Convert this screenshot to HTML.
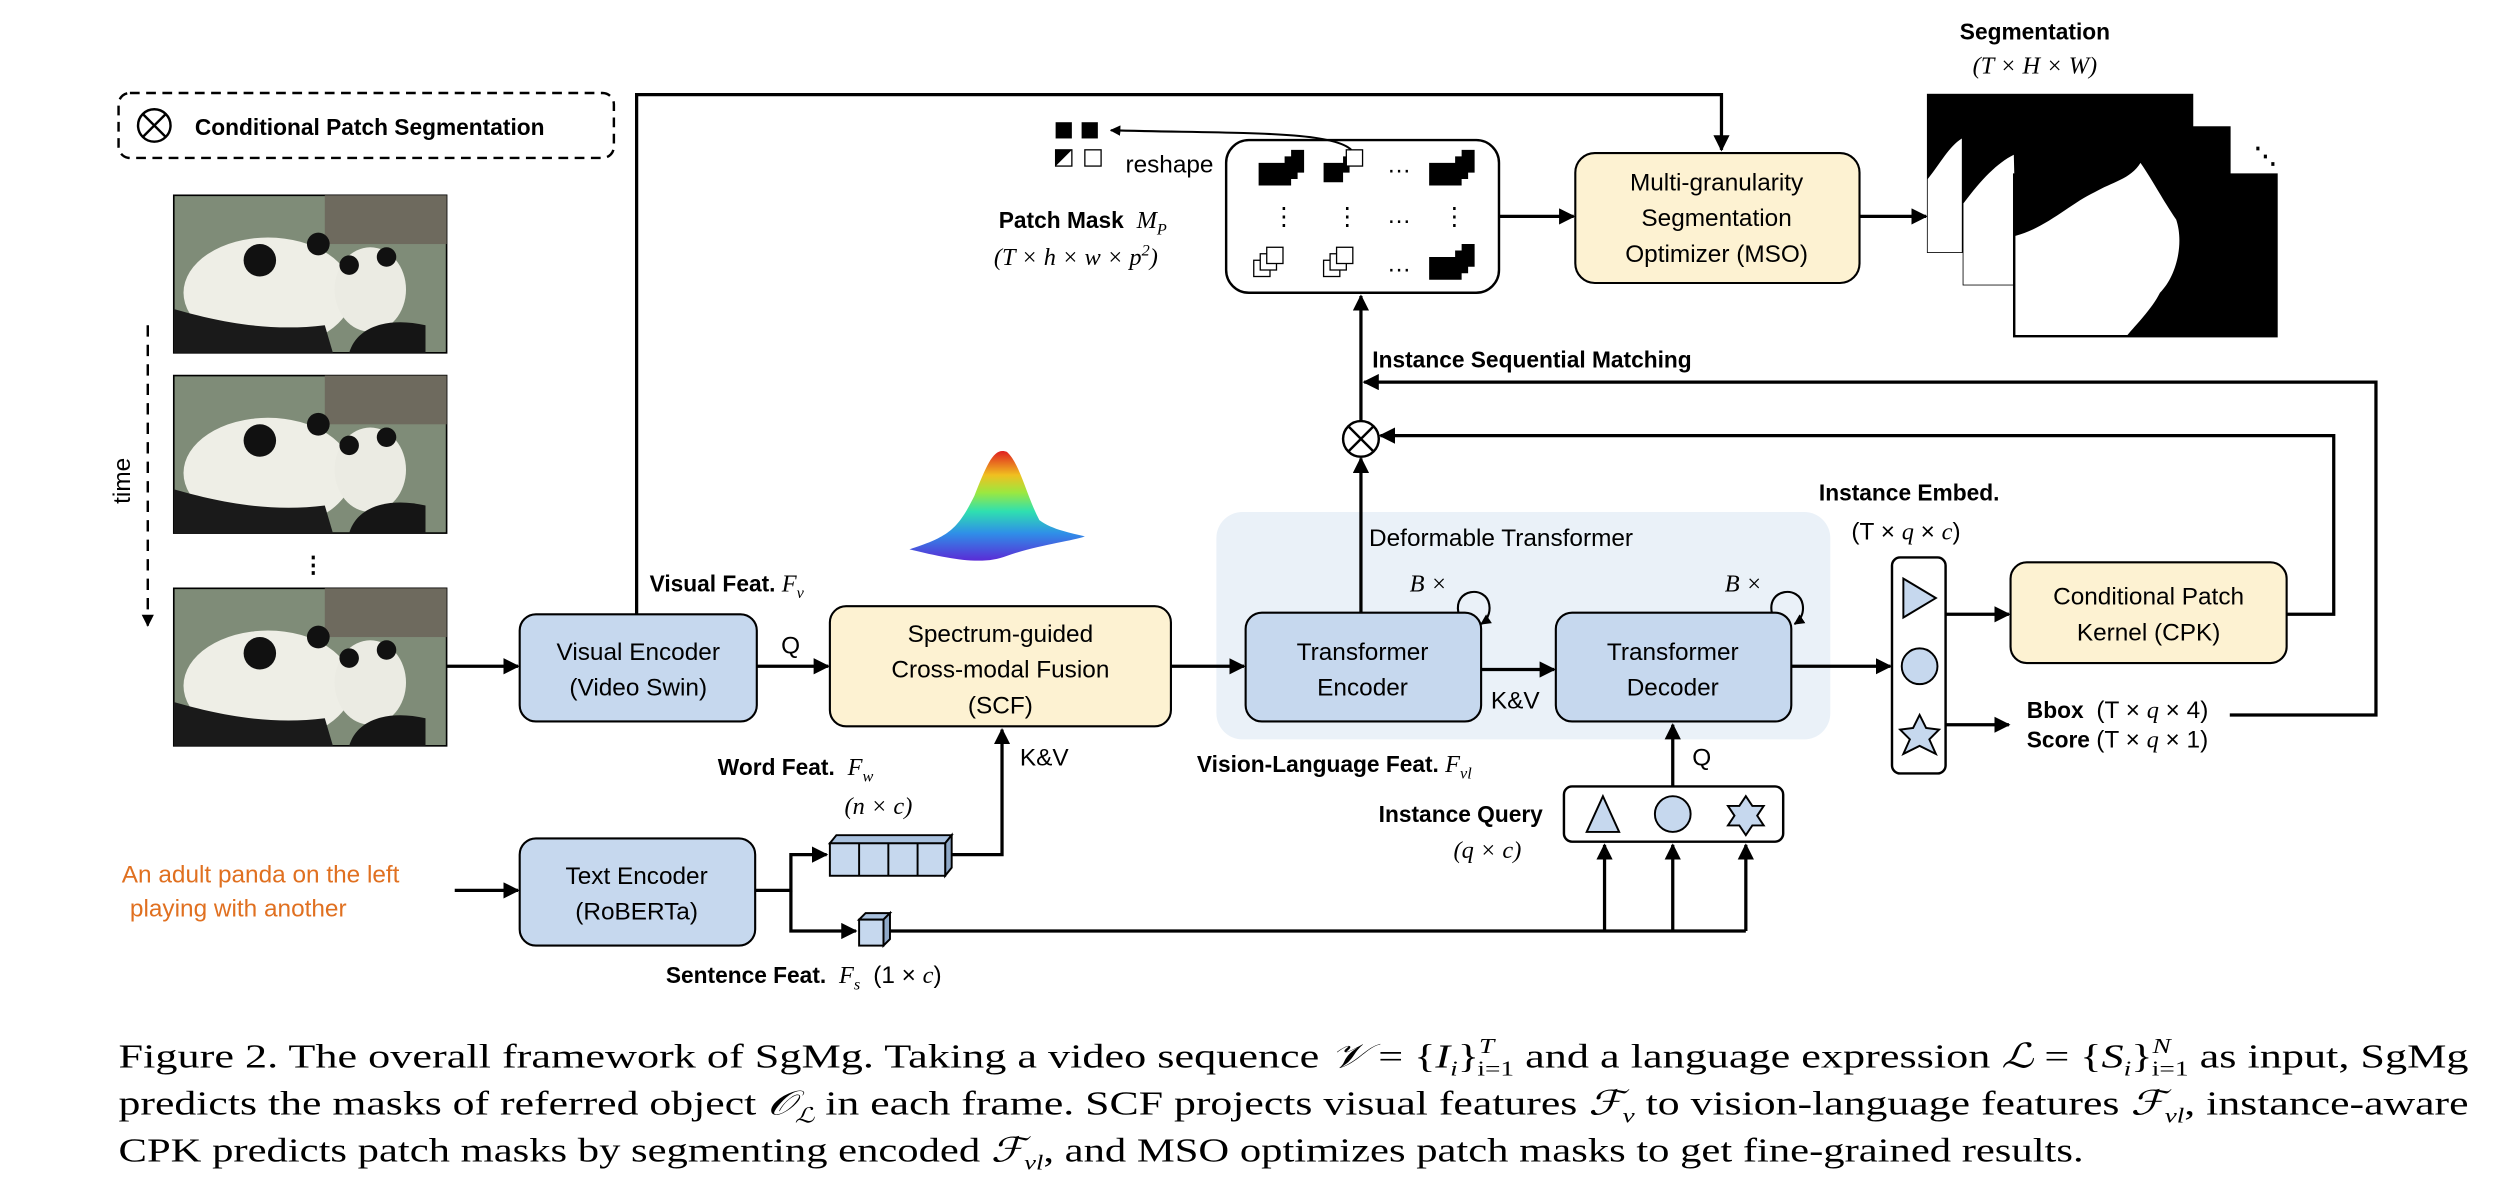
<!DOCTYPE html>
<html><head><meta charset="utf-8"><style>
html,body{margin:0;padding:0;background:#fff;}
svg{display:block;}
.b{font-family:"Liberation Sans",sans-serif;font-weight:bold;font-size:14px;fill:#000;}
.t{font-family:"Liberation Sans",sans-serif;font-size:15px;fill:#000;}
.m{font-family:"Liberation Serif",serif;font-style:italic;font-size:15px;fill:#000;}
.cap{font-family:"Liberation Serif",serif;font-size:21px;fill:#000;}
</style></head><body>
<svg width="2514" height="1188" viewBox="0 0 1548 731" xmlns="http://www.w3.org/2000/svg">
<defs>
<marker id="ar" viewBox="0 0 10 10" refX="9" refY="5" markerWidth="5" markerHeight="5" orient="auto-start-reverse"><path d="M0,0 L10,5 L0,10 z" fill="#000"/></marker>
<linearGradient id="rb" x1="0" y1="1" x2="0" y2="0">
<stop offset="0" stop-color="#5a2bd6"/><stop offset="0.25" stop-color="#2f8fe8"/><stop offset="0.45" stop-color="#2fe0b0"/><stop offset="0.62" stop-color="#9be840"/><stop offset="0.78" stop-color="#f0c020"/><stop offset="1" stop-color="#e02020"/></linearGradient>
</defs>
<rect width="1548" height="731" fill="#fff"/>

<!-- legend -->
<rect x="73" y="57" width="305" height="40" rx="7" fill="none" stroke="#000" stroke-width="1.5" stroke-dasharray="6,4"/>
<circle cx="95" cy="77" r="10" fill="none" stroke="#000" stroke-width="1.5"/>
<path d="M88,70 L102,84 M102,70 L88,84" stroke="#000" stroke-width="1.5"/>
<text x="120" y="83" class="b" font-size="15">Conditional Patch Segmentation</text>

<!-- panda frames -->
<g id="pf">
<rect x="107" y="120" width="168" height="97" fill="#7f8c78" stroke="#000" stroke-width="1"/>
<rect x="200" y="120" width="75" height="30" fill="#6e6a5e"/>
<ellipse cx="165" cy="180" rx="52" ry="34" fill="#eeeee6"/>
<path d="M107,217 L107,190 C125,195 160,205 200,200 L205,217 z" fill="#1a1a1a"/>
<circle cx="160" cy="160" r="10" fill="#111"/>
<ellipse cx="228" cy="178" rx="22" ry="26" fill="#ebebe3"/>
<path d="M215,217 C220,200 240,195 262,200 L262,217 z" fill="#151515"/>
<circle cx="215" cy="163" r="6" fill="#111"/><circle cx="238" cy="158" r="6" fill="#111"/>
<circle cx="196" cy="150" r="7" fill="#111"/>
</g>
<use href="#pf" y="111"/>
<use href="#pf" y="242"/>
<text x="186" y="352" class="b" font-size="18">⋮</text>
<line x1="91" y1="200" x2="91" y2="385" stroke="#000" stroke-width="1.5" stroke-dasharray="7,5" marker-end="url(#ar)"/>
<text class="t" font-size="16" transform="translate(80,310) rotate(-90)">time</text>

<!-- top loop -->
<path d="M392,378 L392,58 L1060,58 L1060,92" fill="none" stroke="#000" stroke-width="2" marker-end="url(#ar)"/>

<!-- deformable panel -->
<rect x="749" y="315" width="378" height="140" rx="16" fill="#eaf1f8"/>

<!-- visual encoder -->
<line x1="275" y1="410" x2="319" y2="410" stroke="#000" stroke-width="2" marker-end="url(#ar)"/>
<rect x="320" y="378" width="146" height="66" rx="10" fill="#c6d8ee" stroke="#000" stroke-width="1.3"/>
<text x="393" y="406" class="t" text-anchor="middle">Visual Encoder</text>
<text x="393" y="428" class="t" text-anchor="middle">(Video Swin)</text>
<text x="400" y="364" class="b">Visual Feat. <tspan class="m" font-weight="normal">F<tspan font-size="10" dy="4">v</tspan></tspan></text>
<line x1="466" y1="410" x2="510" y2="410" stroke="#000" stroke-width="2" marker-end="url(#ar)"/>
<text x="481" y="402" class="t" font-size="14">Q</text>

<!-- gaussian -->
<path d="M560,338 C585,330 590,325 600,305 C608,285 612,275 620,278 C628,285 632,305 640,320 C648,326 660,328 668,330 C660,333 640,335 620,342 C605,348 585,344 560,338 Z" fill="url(#rb)"/>

<!-- SCF -->
<rect x="511" y="373" width="210" height="74" rx="10" fill="#fdf2d2" stroke="#000" stroke-width="1.3"/>
<text x="616" y="395" class="t" text-anchor="middle">Spectrum-guided</text>
<text x="616" y="417" class="t" text-anchor="middle">Cross-modal Fusion</text>
<text x="616" y="439" class="t" text-anchor="middle">(SCF)</text>
<line x1="721" y1="410" x2="766" y2="410" stroke="#000" stroke-width="2" marker-end="url(#ar)"/>

<text x="843" y="336" class="t" font-size="14">Deformable Transformer</text>
<rect x="767" y="377" width="145" height="67" rx="10" fill="#c6d8ee" stroke="#000" stroke-width="1.3"/>
<text x="839" y="406" class="t" text-anchor="middle">Transformer</text>
<text x="839" y="428" class="t" text-anchor="middle">Encoder</text>
<rect x="958" y="377" width="145" height="67" rx="10" fill="#c6d8ee" stroke="#000" stroke-width="1.3"/>
<text x="1030" y="406" class="t" text-anchor="middle">Transformer</text>
<text x="1030" y="428" class="t" text-anchor="middle">Decoder</text>
<line x1="912" y1="412" x2="957" y2="412" stroke="#000" stroke-width="2" marker-end="url(#ar)"/>
<text x="918" y="436" class="t" font-size="14">K&amp;V</text>
<text x="868" y="364" class="m">B ×</text>
<text x="1062" y="364" class="m">B ×</text>
<path d="M898,377 C895,362 915,360 917,372 C918,378 915,382 912,384" fill="none" stroke="#000" stroke-width="1.3" marker-end="url(#ar)"/>
<path d="M1091,377 C1088,362 1108,360 1110,372 C1111,378 1108,382 1105,384" fill="none" stroke="#000" stroke-width="1.3" marker-end="url(#ar)"/>
<text x="737" y="475" class="b">Vision-Language Feat. <tspan class="m" font-weight="normal">F<tspan font-size="10" dy="4">vl</tspan></tspan></text>

<!-- encoder up to otimes -->
<line x1="838" y1="377" x2="838" y2="282" stroke="#000" stroke-width="2" marker-end="url(#ar)"/>
<circle cx="838" cy="270" r="11" fill="#fff" stroke="#000" stroke-width="1.5"/>
<path d="M830,262 L846,278 M846,262 L830,278" stroke="#000" stroke-width="1.5"/>
<line x1="838" y1="259" x2="838" y2="182" stroke="#000" stroke-width="2" marker-end="url(#ar)"/>
<text x="845" y="226" class="b">Instance Sequential Matching</text>
<path d="M1373,440 L1463,440 L1463,235 L840,235" fill="none" stroke="#000" stroke-width="2" marker-end="url(#ar)"/>
<path d="M1408,378 L1437,378 L1437,268 L850,268" fill="none" stroke="#000" stroke-width="2" marker-end="url(#ar)"/>

<!-- patch mask -->
<rect x="755" y="86" width="168" height="94" rx="14" fill="#fff" stroke="#000" stroke-width="1.5"/>
<g fill="#000">
<path d="M775,100 h16 v-4 h4 v-4 h8 v14 h-4 v4 h-4 v4 h-20 z"/>
<path d="M880,100 h16 v-4 h4 v-4 h8 v14 h-4 v4 h-4 v4 h-20 z"/>
<path d="M880,158 h16 v-4 h4 v-4 h8 v14 h-4 v4 h-4 v4 h-20 z"/>
<path d="M815,100 h12 v-4 h4 v10 h-4 v6 h-12 z"/>
</g>
<g fill="#fff" stroke="#000" stroke-width="0.8">
<rect x="829" y="92" width="10" height="10"/>
<rect x="772" y="160" width="10" height="10"/><rect x="776" y="156" width="10" height="10"/><rect x="780" y="152" width="10" height="10"/>
<rect x="815" y="160" width="10" height="10"/><rect x="819" y="156" width="10" height="10"/><rect x="823" y="152" width="10" height="10"/>
</g>
<g class="t" font-size="13">
<text x="854" y="106">…</text><text x="854" y="137">…</text><text x="854" y="167">…</text>
<text x="783" y="138">⋮</text><text x="822" y="138">⋮</text><text x="888" y="138">⋮</text>
</g>
<path d="M832,92 C820,80 760,82 684,80" fill="none" stroke="#000" stroke-width="1.3" marker-end="url(#ar)"/>
<rect x="650" y="75" width="10" height="10" fill="#000"/>
<rect x="666" y="75" width="10" height="10" fill="#000"/>
<rect x="650" y="92" width="10" height="10" fill="#fff" stroke="#000" stroke-width="0.8"/>
<path d="M650,102 L660,92 L650,92 z" fill="#000"/>
<rect x="668" y="92" width="10" height="10" fill="#fff" stroke="#000" stroke-width="0.8"/>
<text x="693" y="106" class="t" font-size="14">reshape</text>
<text x="615" y="140" class="b">Patch Mask <tspan class="m" font-weight="normal" dx="4">M<tspan font-size="10" dy="4">P</tspan></tspan></text>
<text x="612" y="163" class="m">(T × h × w × p<tspan font-size="10" dy="-6">2</tspan><tspan dy="6">)</tspan></text>
<line x1="923" y1="133" x2="969" y2="133" stroke="#000" stroke-width="2" marker-end="url(#ar)"/>

<!-- MSO -->
<rect x="970" y="94" width="175" height="80" rx="12" fill="#fdf2d2" stroke="#000" stroke-width="1.3"/>
<text x="1057" y="117" class="t" text-anchor="middle">Multi-granularity</text>
<text x="1057" y="139" class="t" text-anchor="middle">Segmentation</text>
<text x="1057" y="161" class="t" text-anchor="middle">Optimizer (MSO)</text>
<line x1="1145" y1="133" x2="1186" y2="133" stroke="#000" stroke-width="2" marker-end="url(#ar)"/>

<!-- segmentation output -->
<text x="1253" y="24" class="b" text-anchor="middle">Segmentation</text>
<text x="1253" y="45" class="m" text-anchor="middle">(T × H × W)</text>
<rect x="1187" y="58" width="163" height="97" fill="#000" stroke="#000"/>
<path d="M1187,155 L1187,110 C1195,100 1200,90 1208,85 L1208,155 z" fill="#fff"/>
<rect x="1209" y="78" width="164" height="97" fill="#000" stroke="#000"/>
<path d="M1209,175 L1209,125 C1220,110 1230,100 1240,95 L1242,175 z" fill="#fff"/>
<rect x="1240" y="107" width="162" height="100" fill="#000" stroke="#000"/>
<path d="M1241,206 L1241,145 C1260,140 1275,125 1290,118 C1300,112 1312,110 1318,100 C1325,110 1330,120 1340,135 C1345,150 1340,170 1330,180 C1325,190 1315,200 1310,206 z" fill="#fff"/>
<text x="1388" y="100" class="b" font-size="14">⋱</text>

<!-- instance embed column -->
<text x="1120" y="308" class="b">Instance Embed.</text>
<text x="1140" y="332" class="t" font-size="14">(T × <tspan class="m">q</tspan> × <tspan class="m">c</tspan>)</text>
<line x1="1103" y1="410" x2="1164" y2="410" stroke="#000" stroke-width="2" marker-end="url(#ar)"/>
<rect x="1165" y="343" width="33" height="133" rx="5" fill="#fff" stroke="#000" stroke-width="1.5"/>
<path d="M1172,356 L1192,368 L1172,380 z" fill="#c6d8ee" stroke="#000" stroke-width="1.2"/>
<circle cx="1182" cy="410" r="11" fill="#c6d8ee" stroke="#000" stroke-width="1.2"/>
<path d="M1182,440 L1186,448 L1194,449 L1188,455 L1192,464 L1182,459 L1172,464 L1176,455 L1170,449 L1178,448 z" fill="#c6d8ee" stroke="#000" stroke-width="1.2"/>
<line x1="1198" y1="378" x2="1237" y2="378" stroke="#000" stroke-width="2" marker-end="url(#ar)"/>
<line x1="1198" y1="446" x2="1237" y2="446" stroke="#000" stroke-width="2" marker-end="url(#ar)"/>
<rect x="1238" y="346" width="170" height="62" rx="10" fill="#fdf2d2" stroke="#000" stroke-width="1.3"/>
<text x="1323" y="372" class="t" text-anchor="middle">Conditional Patch</text>
<text x="1323" y="394" class="t" text-anchor="middle">Kernel (CPK)</text>
<text x="1248" y="442" class="b">Bbox <tspan class="t" font-weight="normal" font-size="14" dx="4">(T × <tspan class="m">q</tspan> × 4)</tspan></text>
<text x="1248" y="460" class="b">Score <tspan class="t" font-weight="normal" font-size="14">(T × <tspan class="m">q</tspan> × 1)</tspan></text>

<!-- instance query -->
<rect x="963" y="484" width="135" height="34" rx="5" fill="#fff" stroke="#000" stroke-width="1.5"/>
<path d="M977,512 L987,490 L997,512 z" fill="#c6d8ee" stroke="#000" stroke-width="1.2"/>
<circle cx="1030" cy="501" r="11" fill="#c6d8ee" stroke="#000" stroke-width="1.2"/>
<path d="M1075,490 L1079,496 L1086,496 L1082,502 L1086,508 L1079,508 L1075,514 L1071,508 L1064,508 L1068,502 L1064,496 L1071,496 z" fill="#c6d8ee" stroke="#000" stroke-width="1.2"/>
<line x1="1030" y1="484" x2="1030" y2="446" stroke="#000" stroke-width="2" marker-end="url(#ar)"/>
<text x="1042" y="471" class="t" font-size="14">Q</text>
<text x="950" y="506" class="b" text-anchor="end">Instance Query</text>
<text x="895" y="528" class="m">(q × c)</text>

<!-- text encoder -->
<text x="75" y="543" class="t" font-size="15" style="fill:#e07020">An adult panda on the left</text>
<text x="80" y="564" class="t" font-size="15" style="fill:#e07020">playing with another</text>
<line x1="280" y1="548" x2="319" y2="548" stroke="#000" stroke-width="2" marker-end="url(#ar)"/>
<rect x="320" y="516" width="145" height="66" rx="10" fill="#c6d8ee" stroke="#000" stroke-width="1.3"/>
<text x="392" y="544" class="t" text-anchor="middle">Text Encoder</text>
<text x="392" y="566" class="t" text-anchor="middle">(RoBERTa)</text>
<path d="M465,548 L487,548 L487,526 L509,526" fill="none" stroke="#000" stroke-width="2" marker-end="url(#ar)"/>
<path d="M487,548 L487,573 L527,573" fill="none" stroke="#000" stroke-width="2" marker-end="url(#ar)"/>
<g stroke="#000" stroke-width="1.2" fill="#c6d8ee">
<path d="M511,519 L515,514 L586,514 L582,519 z" fill="#a9c1de"/>
<path d="M582,519 L586,514 L586,534 L582,539 z" fill="#8fa9c8"/>
<rect x="511" y="519" width="71" height="20"/>
<line x1="529" y1="519" x2="529" y2="539"/><line x1="547" y1="519" x2="547" y2="539"/><line x1="565" y1="519" x2="565" y2="539"/>
<path d="M529,566 L533,562 L548,562 L544,566 z" fill="#a9c1de"/>
<path d="M544,566 L548,562 L548,578 L544,582 z" fill="#8fa9c8"/>
<rect x="529" y="566" width="15" height="16"/>
</g>
<path d="M586,526 L617,526 L617,449" fill="none" stroke="#000" stroke-width="2" marker-end="url(#ar)"/>
<text x="628" y="471" class="t" font-size="14">K&amp;V</text>
<text x="442" y="477" class="b">Word Feat. <tspan class="m" font-weight="normal" dx="4">F<tspan font-size="10" dy="4">w</tspan></tspan></text>
<text x="520" y="501" class="m">(n × c)</text>
<path d="M548,573 L1075,573" fill="none" stroke="#000" stroke-width="2"/>
<line x1="988" y1="573" x2="988" y2="520" stroke="#000" stroke-width="2" marker-end="url(#ar)"/>
<line x1="1030" y1="573" x2="1030" y2="520" stroke="#000" stroke-width="2" marker-end="url(#ar)"/>
<line x1="1075" y1="573" x2="1075" y2="520" stroke="#000" stroke-width="2" marker-end="url(#ar)"/>
<text x="410" y="605" class="b">Sentence Feat. <tspan class="m" font-weight="normal" dx="4">F<tspan font-size="10" dy="4">s</tspan></tspan><tspan class="t" font-weight="normal" dy="-4" dx="8">(1 × <tspan class="m">c</tspan>)</tspan></text>

<!-- caption -->
<text x="73" y="657" class="cap" textLength="1447" lengthAdjust="spacingAndGlyphs">Figure 2. The overall framework of SgMg. Taking a video sequence <tspan font-style="italic">𝒱</tspan> = {<tspan font-style="italic">I<tspan font-size="13" dy="5">i</tspan></tspan><tspan dy="-5">}</tspan><tspan font-size="13" dy="-9" font-style="italic">T</tspan><tspan font-size="13" dy="14" dx="-8">i=1</tspan><tspan dy="-5"> and a language expression </tspan><tspan font-style="italic">ℒ</tspan> = {<tspan font-style="italic">S<tspan font-size="13" dy="5">i</tspan></tspan><tspan dy="-5">}</tspan><tspan font-size="13" dy="-9" font-style="italic">N</tspan><tspan font-size="13" dy="14" dx="-9">i=1</tspan><tspan dy="-5"> as input, SgMg</tspan></text>
<text x="73" y="686" class="cap" textLength="1447" lengthAdjust="spacingAndGlyphs">predicts the masks of referred object <tspan font-style="italic">𝒪<tspan font-size="13" dy="5">ℒ</tspan></tspan><tspan dy="-5"> in each frame. SCF projects visual features </tspan><tspan font-style="italic">ℱ<tspan font-size="13" dy="5">v</tspan></tspan><tspan dy="-5"> to vision-language features </tspan><tspan font-style="italic">ℱ<tspan font-size="13" dy="5">vl</tspan></tspan><tspan dy="-5">, instance-aware</tspan></text>
<text x="73" y="715" class="cap" textLength="1210" lengthAdjust="spacingAndGlyphs">CPK predicts patch masks by segmenting encoded <tspan font-style="italic">ℱ<tspan font-size="13" dy="5">vl</tspan></tspan><tspan dy="-5">, and MSO optimizes patch masks to get fine-grained results.</tspan></text>
</svg>
</body></html>
